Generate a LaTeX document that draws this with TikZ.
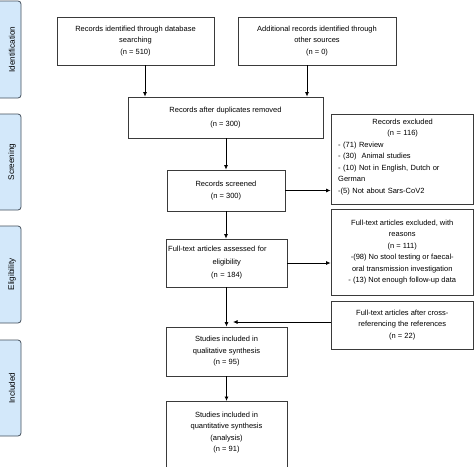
\documentclass[tikz,border=0pt]{standalone}
\usepackage{fontspec}
\setmainfont{Liberation Sans}
\usetikzlibrary{arrows.meta}
\definecolor{tabfill}{HTML}{D3E8FA}
\definecolor{tabline}{HTML}{44505C}
\definecolor{boxline}{HTML}{3A3A3A}
\begin{document}
\begin{tikzpicture}[x=1pt,y=-1pt,
  box/.style={draw=boxline, line width=0.8pt, rectangle, inner sep=0pt, font=\fontsize{7.5}{11.5}\selectfont, align=center},
  txt/.style={inner sep=0pt, font=\fontsize{7.5}{11.5}\selectfont},
  tab/.style={draw=tabline, fill=tabfill, line width=0.8pt, rounded corners=3pt, inner sep=0pt},
  tabtxt/.style={rotate=90, inner sep=0pt, font=\fontsize{8.2}{9}\selectfont},
  arr/.style={-{Latex[length=4.5pt,width=4pt]}, line width=0.8pt, black}]
\useasboundingbox (0,0) rectangle (474,466);
\clip (0,0) rectangle (474,466);
% side tabs
\draw[tab] (-6,1) rectangle (21,98);
\node[tabtxt] (tid) at (12,49.5) {Identification};
\draw[tab] (-6,114) rectangle (21,210);
\node[tabtxt] (tsc) at (12,162) {Screening};
\draw[tab] (-6,226) rectangle (21,323);
\node[tabtxt] (tel) at (12,274.5) {Eligibility};
\draw[tab] (-6,340) rectangle (21,436);
\node[tabtxt] (tin) at (12,388) {Included};
% boxes
\node[box, minimum width=157pt, minimum height=48pt] (b1) at (135.5,41)
  {Records identified through database\\searching\\(n = 510)};
\node[box, minimum width=158pt, minimum height=48pt] (b2) at (317,41)
  {Additional records identified through\\other sources\\(n = 0)};
\node[box, minimum width=195pt, minimum height=41pt] (dup) at (225.5,117.5)
  {Records after duplicates removed\\[2.5pt](n = 300)};
\node[box, minimum width=118pt, minimum height=41pt] (scr) at (226,190.5)
  {Records screened\\(n = 300)};
\node[box, minimum width=142.5pt, minimum height=90pt] (exc) at (402.25,159) {};
\node[txt, text width=129pt, anchor=north west] (exctxt) at (338,118.5)
  {{\centering Records excluded\\(n = 116)\par}\raggedright
   - (71) Review\\- (30)\ \ Animal studies\\- (10) Not in English, Dutch or\\German\\-(5) Not about Sars-CoV2\par};
\node[box, minimum width=121pt, minimum height=48pt] (ful) at (226.5,263) {};
\node[txt, text width=117pt, anchor=north west] (fultxt) at (168,246)
  {\fontsize{7.5}{13}\selectfont\raggedright Full-text articles assessed for\par
   \centering eligibility\\(n = 184)\par};
\node[box, minimum width=142.5pt, minimum height=86pt] (fexc) at (402.25,252)
  {Full-text articles excluded, with\\reasons\\(n = 111)\\-(98) No stool testing or faecal-\\oral transmission investigation\\- (13) Not enough follow-up data};
\node[box, minimum width=142.5pt, minimum height=48pt] (cross) at (402.25,325)
  {Full-text articles after cross-\\referencing the references\\(n = 22)};
\node[box, minimum width=121pt, minimum height=49pt] (qual) at (226.5,351.5)
  {Studies included in\\qualitative synthesis\\(n = 95)};
\node[box, minimum width=121pt, minimum height=72pt, anchor=north] (quan) at (226.5,401) {};
\node[txt, align=center] (quantxt) at (226.5,432.5)
  {Studies included in\\quantitative synthesis\\(analysis)\\(n = 91)};
% connectors
\coordinate (c1) at (145,0);
\coordinate (c2) at (307,0);
\coordinate (xend) at (233,322);
\draw[arr] (b1.south -| c1) -- (dup.north -| c1);
\draw[arr] (b2.south -| c2) -- (dup.north -| c2);
\draw[arr] (dup.south -| scr) -- (scr.north);
\draw[arr] (scr.east) -- (exc.west |- scr.east);
\draw[arr] (scr.south) -- (ful.north -| scr.south);
\draw[arr] (ful.east) -- (fexc.west |- ful.east);
\draw[arr] (ful.south) -- (qual.north);
\draw[arr] (cross.west |- xend) -- (xend);
\draw[arr] (qual.south) -- (quan.north);
\end{tikzpicture}
\end{document}
